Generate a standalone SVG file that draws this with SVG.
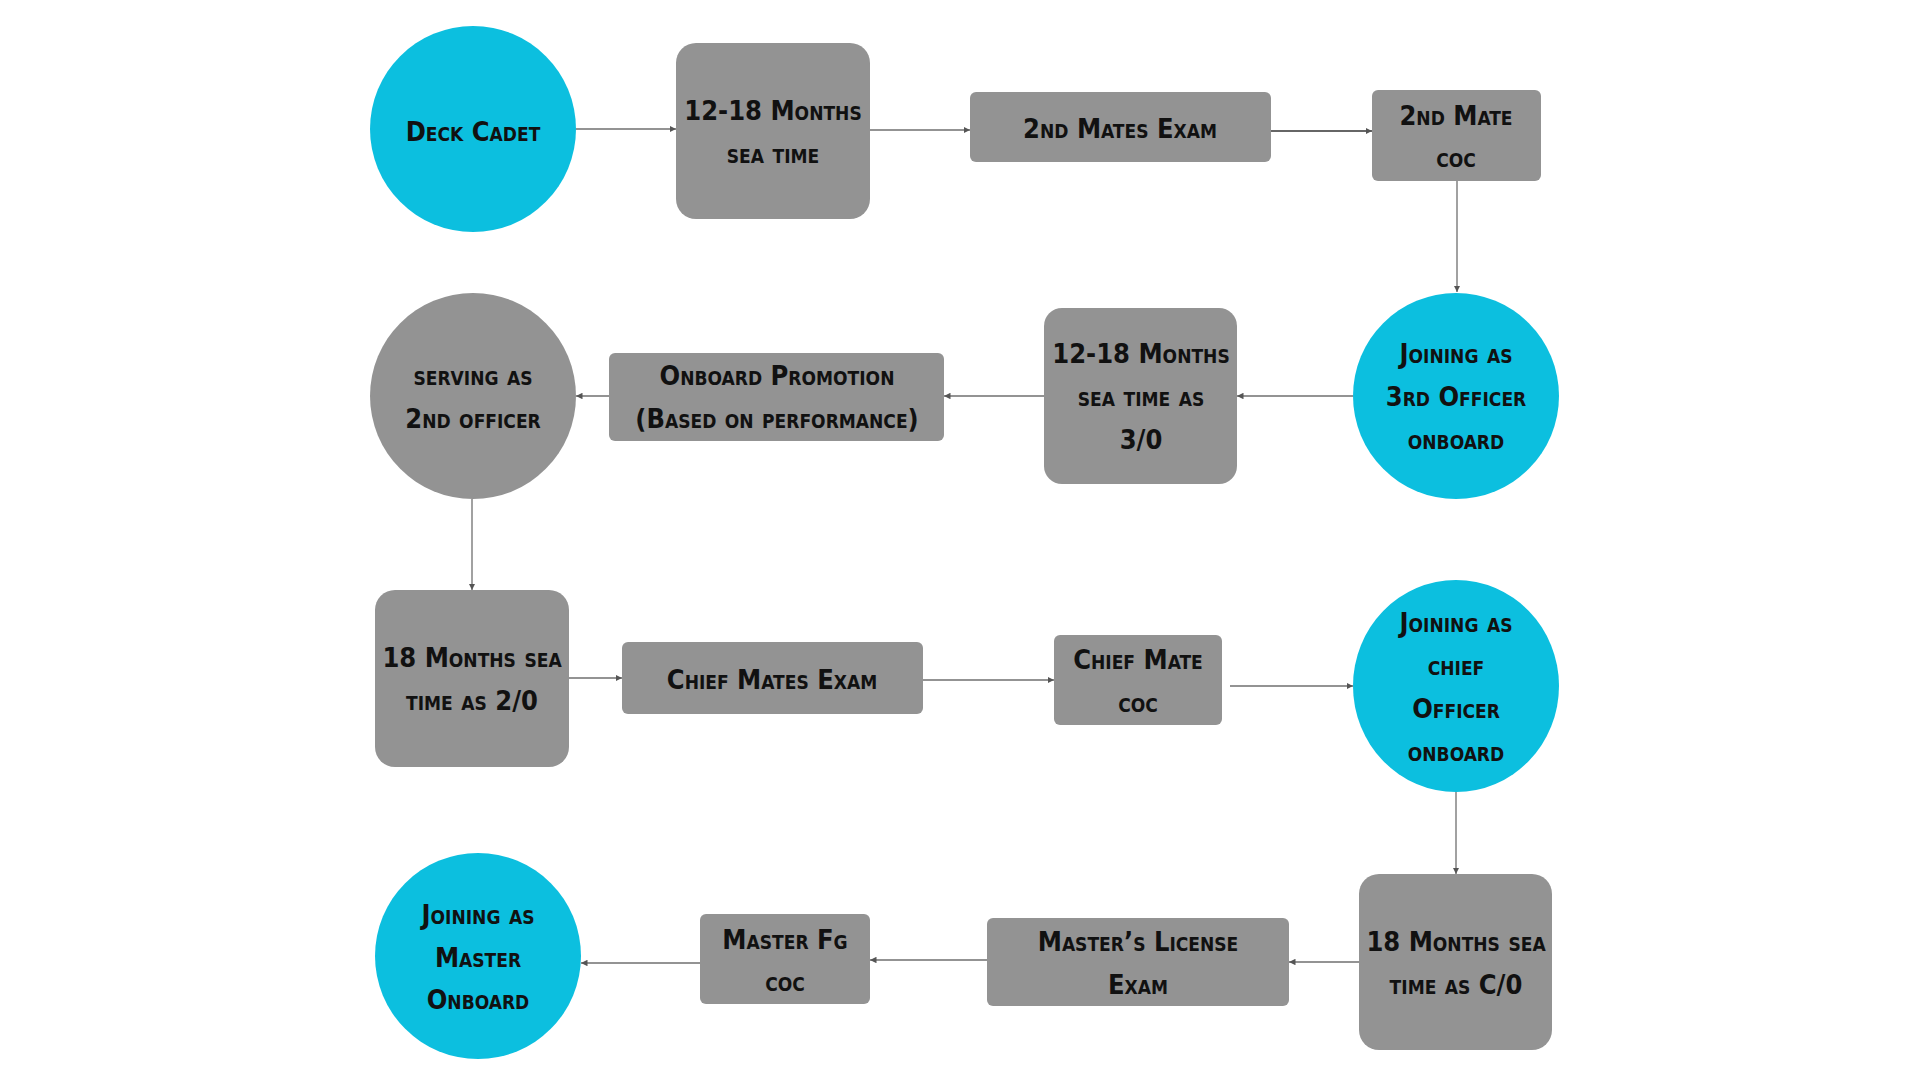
<svg xmlns="http://www.w3.org/2000/svg" width="1920" height="1080" viewBox="0 0 1920 1080">
<style>
.c{fill:#0cbfdf}.g{fill:#939393}
text{font-family:"DejaVu Sans",sans-serif;font-weight:bold;font-stretch:condensed;font-variant:small-caps;font-size:27px;fill:#111;text-anchor:middle;dominant-baseline:central}
.e{stroke:#6f6f6f;stroke-width:1.3;fill:none;marker-end:url(#a)}
</style>
<defs><marker id="a" viewBox="0 0 10 10" refX="10" refY="5" markerWidth="5" markerHeight="5" orient="auto"><path d="M0,0L10,5L0,10z" fill="#555"/></marker></defs>
<rect width="1920" height="1080" fill="#fff"/>
<g id="connectors">
<line class="e" x1="576" y1="129" x2="676" y2="129"/>
<line class="e" x1="870" y1="130" x2="970" y2="130"/>
<line class="e" x1="1271" y1="131" x2="1372" y2="131" style="stroke:#333"/>
<line class="e" x1="1457" y1="181" x2="1457" y2="292"/>
<line class="e" x1="1353" y1="396" x2="1237" y2="396"/>
<line class="e" x1="1044" y1="396" x2="944" y2="396"/>
<line class="e" x1="609" y1="396" x2="576" y2="396"/>
<line class="e" x1="472" y1="499" x2="472" y2="590"/>
<line class="e" x1="569" y1="678" x2="622" y2="678"/>
<line class="e" x1="923" y1="680" x2="1054" y2="680"/>
<line class="e" x1="1230" y1="686" x2="1353" y2="686"/>
<line class="e" x1="1456" y1="792" x2="1456" y2="874"/>
<line class="e" x1="1359" y1="962" x2="1289" y2="962"/>
<line class="e" x1="987" y1="960" x2="870" y2="960"/>
<line class="e" x1="700" y1="963" x2="581" y2="963"/>
</g>
<g id="n1"><circle class="c" cx="473" cy="129" r="103"/><text x="473" y="131">Deck Cadet</text></g>
<g id="n2"><rect class="g" x="676" y="43" width="194" height="176" rx="20"/><text x="773" y="110">12-18 Months</text><text x="773" y="153">sea time</text></g>
<g id="n3"><rect class="g" x="970" y="92" width="301" height="70" rx="6"/><text x="1120" y="128">2nd Mates Exam</text></g>
<g id="n4"><rect class="g" x="1372" y="90" width="169" height="91" rx="6"/><text x="1456" y="115">2nd Mate</text><text x="1456" y="157">coc</text></g>
<g id="n5"><circle class="c" cx="1456" cy="396" r="103"/><text x="1456" y="353">Joining as</text><text x="1456" y="396">3rd Officer</text><text x="1456" y="439">onboard</text></g>
<g id="n6"><rect class="g" x="1044" y="308" width="193" height="176" rx="18"/><text x="1141" y="353">12-18 Months</text><text x="1141" y="396">sea time as</text><text x="1141" y="439">3/0</text></g>
<g id="n7"><rect class="g" x="609" y="353" width="335" height="88" rx="6"/><text x="777" y="375">Onboard Promotion</text><text x="777" y="418">(Based on performance)</text></g>
<g id="n8"><circle fill="#939393" cx="473" cy="396" r="103"/><text x="473" y="375">serving as</text><text x="473" y="418">2nd officer</text></g>
<g id="n9"><rect class="g" x="375" y="590" width="194" height="177" rx="20"/><text x="472" y="657">18 Months sea</text><text x="472" y="700">time as 2/0</text></g>
<g id="n10"><rect class="g" x="622" y="642" width="301" height="72" rx="6"/><text x="772" y="679">Chief Mates Exam</text></g>
<g id="n11"><rect class="g" x="1054" y="635" width="168" height="90" rx="6"/><text x="1138" y="659">Chief Mate</text><text x="1138" y="702">coc</text></g>
<g id="n12"><ellipse class="c" cx="1456" cy="686" rx="103" ry="106"/><text x="1456" y="622">Joining as</text><text x="1456" y="665">chief</text><text x="1456" y="708">Officer</text><text x="1456" y="751">onboard</text></g>
<g id="n13"><rect class="g" x="1359" y="874" width="193" height="176" rx="20"/><text x="1456" y="941">18 Months sea</text><text x="1456" y="984">time as C/0</text></g>
<g id="n14"><rect class="g" x="987" y="918" width="302" height="88" rx="6"/><text x="1138" y="941">Master’s License</text><text x="1138" y="984">Exam</text></g>
<g id="n15"><rect class="g" x="700" y="914" width="170" height="90" rx="6"/><text x="785" y="939">Master Fg</text><text x="785" y="981">coc</text></g>
<g id="n16"><circle class="c" cx="478" cy="956" r="103"/><text x="478" y="914">Joining as</text><text x="478" y="957">Master</text><text x="478" y="999">Onboard</text></g>
</svg>
